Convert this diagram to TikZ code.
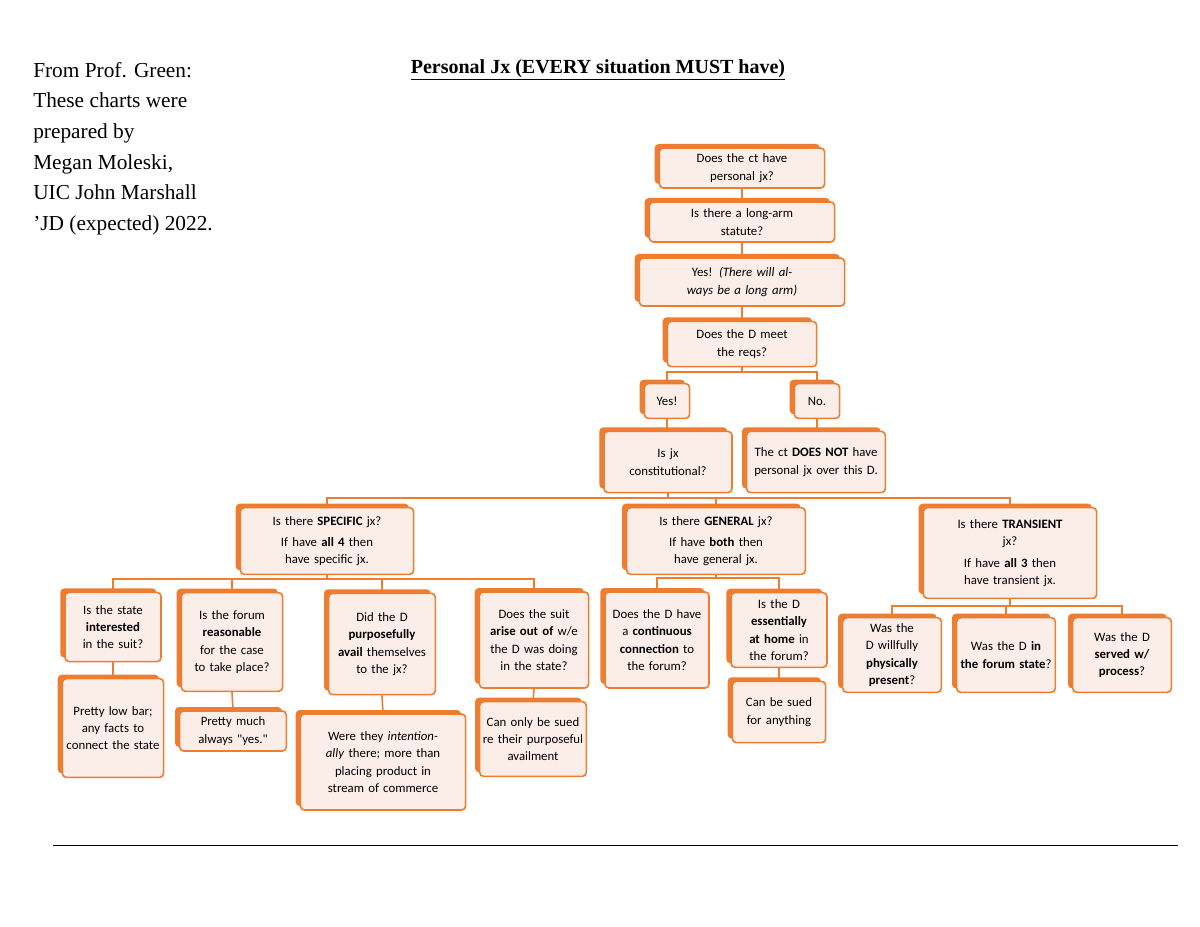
\documentclass[tikz,border=0pt]{standalone}
\usepackage{fontspec}
\setmainfont{Liberation Serif}
\newfontfamily\carlfont{Carlito}
\usetikzlibrary{shadows}
\definecolor{boxor}{HTML}{ED7D31}
\definecolor{boxfill}{HTML}{FBEEE8}
\begin{document}
\begin{tikzpicture}[x=0.75pt,y=-0.75pt,
 box/.style={draw=boxor, line width=1.2pt, fill=boxfill, rounded corners=3pt, align=center,
   font=\carlfont\fontsize{9.6}{13}\selectfont, inner sep=2pt,
   drop shadow={shadow xshift=-3.5pt, shadow yshift=3pt, fill=boxor, opacity=1}},
 ln/.style={draw=boxor, line width=1.2pt}]
\useasboundingbox (0,0) rectangle (1200,927);
\node[font=\bfseries\fontsize{15}{18}\selectfont] (title) at (598,70) {\underline{Personal Jx (EVERY situation MUST have)}};
\node[anchor=north west, align=left, font=\fontsize{16}{23}\selectfont, inner sep=0pt] (note) at (33,62)
 {From Prof. Green:\\These charts were\\prepared by\\Megan Moleski,\\UIC John Marshall\\'JD (expected) 2022.};
\draw[line width=0.6pt] (53,845) coordinate (l1) -- (1178,845) coordinate (l2);

\node[box, text width=120pt, minimum height=30pt] (a1) at (742,168) {Does the ct have\\personal jx?};
\node[box, text width=135pt, minimum height=30pt] (a2) at (742,222) {Is there a long-arm\\statute?};
\node[box, text width=150pt, minimum height=36pt] (a3) at (742,282) {Yes! \textit{(There will always be a long arm)}};
\node[box, text width=108pt, minimum height=34pt] (a4) at (742,344) {Does the D meet\\the reqs?};
\node[box, text width=30pt, minimum height=26pt] (y1) at (667,401) {Yes!};
\node[box, text width=30pt, minimum height=26pt] (n1) at (817,401) {No.};
\node[box, text width=92pt, minimum height=46pt] (c1) at (668,462) {Is jx\\constitutional?};
\node[box, text width=100pt, minimum height=46pt] (c2) at (816,462) {The ct \textbf{DOES NOT} have personal jx over this D.};

\node[box, text width=126pt, minimum height=50pt] (sp) at (327,541) {Is there \textbf{SPECIFIC} jx?\\[3pt]If have \textbf{all 4} then have specific jx.};
\node[box, text width=130pt, minimum height=50pt] (ge) at (716,541) {Is there \textbf{GENERAL} jx?\\[3pt]If have \textbf{both} then have general jx.};
\node[box, text width=126pt, minimum height=68pt] (tr) at (1010,553) {Is there \textbf{TRANSIENT}\\jx?\\[3pt]If have \textbf{all 3} then have transient jx.};

\node[box, text width=68pt, minimum height=52pt] (s1) at (113,627) {Is the state \textbf{interested} in the suit?};
\node[box, text width=72pt, minimum height=74pt] (s2) at (232,642) {Is the forum \textbf{reasonable} for the case to take place?};
\node[box, text width=76pt, minimum height=76pt] (s3) at (382,644) {Did the D \textbf{purposefully avail} themselves to the jx?};
\node[box, text width=78pt, minimum height=72pt] (s4) at (534,640) {Does the suit \textbf{arise out of} w/e the D was doing in the state?};
\node[box, text width=72pt, minimum height=74pt] (s1b) at (113,728) {Pretty low bar; any facts to connect the state};
\node[box, text width=76pt, minimum height=30pt] (s2b) at (233,731) {Pretty much always "yes."};
\node[box, text width=120pt, minimum height=72pt] (s3b) at (383,762) {Were they \textit{intentionally} there; more than placing product in stream of commerce};
\node[box, text width=76pt, minimum height=56pt] (s4b) at (533,739) {Can only be sued re their purposeful availment};

\node[box, text width=74pt, minimum height=72pt] (g1) at (657,640) {Does the D have a \textbf{continuous connection} to the forum?};
\node[box, text width=68pt, minimum height=56pt] (g2) at (779,630) {Is the D \textbf{essentially at home} in the forum?};
\node[box, text width=66pt, minimum height=46pt] (g2b) at (779,712) {Can be sued for anything};

\node[box, text width=70pt, minimum height=56pt] (t1) at (892,655) {Was the D willfully \textbf{physically present}?};
\node[box, text width=70pt, minimum height=56pt] (t2) at (1006,655) {Was the D \textbf{in the forum state}?};
\node[box, text width=70pt, minimum height=56pt] (t3) at (1122,655) {Was the D \textbf{served w/ process}?};

\draw[ln] (a1.south) -- (a2.north);
\draw[ln] (a2.south) -- (a3.north);
\draw[ln] (a3.south) -- (a4.north);
\draw[ln] (a4.south) -- (a4.south |- 0,372) -| (y1.north);
\draw[ln] (a4.south |- 0,372) -| (n1.north);
\draw[ln] (y1.south) -- (c1.north -| y1.south);
\draw[ln] (n1.south) -- (c2.north -| n1.south);
\draw[ln] (c1.south) -- (c1.south |- 0,498) -| (sp.north);
\draw[ln] (c1.south |- 0,498) -| (ge.north);
\draw[ln] (c1.south |- 0,498) -| (tr.north);
\draw[ln] (sp.south) -- (sp.south |- 0,579) -| (s1.north);
\draw[ln] (sp.south |- 0,579) -| (s2.north);
\draw[ln] (sp.south |- 0,579) -| (s3.north);
\draw[ln] (sp.south |- 0,579) -| (s4.north);
\draw[ln] (s1.south) -- (s1b.north);
\draw[ln] (s2.south) -- (s2b.north);
\draw[ln] (s3.south) -- (s3b.north);
\draw[ln] (s4.south) -- (s4b.north);
\draw[ln] (ge.south) -- (ge.south |- 0,578) -| (g1.north);
\draw[ln] (ge.south |- 0,578) -| (g2.north);
\draw[ln] (g2.south) -- (g2b.north);
\draw[ln] (tr.south) -- (tr.south |- 0,606) -| (t1.north);
\draw[ln] (tr.south |- 0,606) -| (t2.north);
\draw[ln] (tr.south |- 0,606) -| (t3.north);
\end{tikzpicture}
\end{document}
